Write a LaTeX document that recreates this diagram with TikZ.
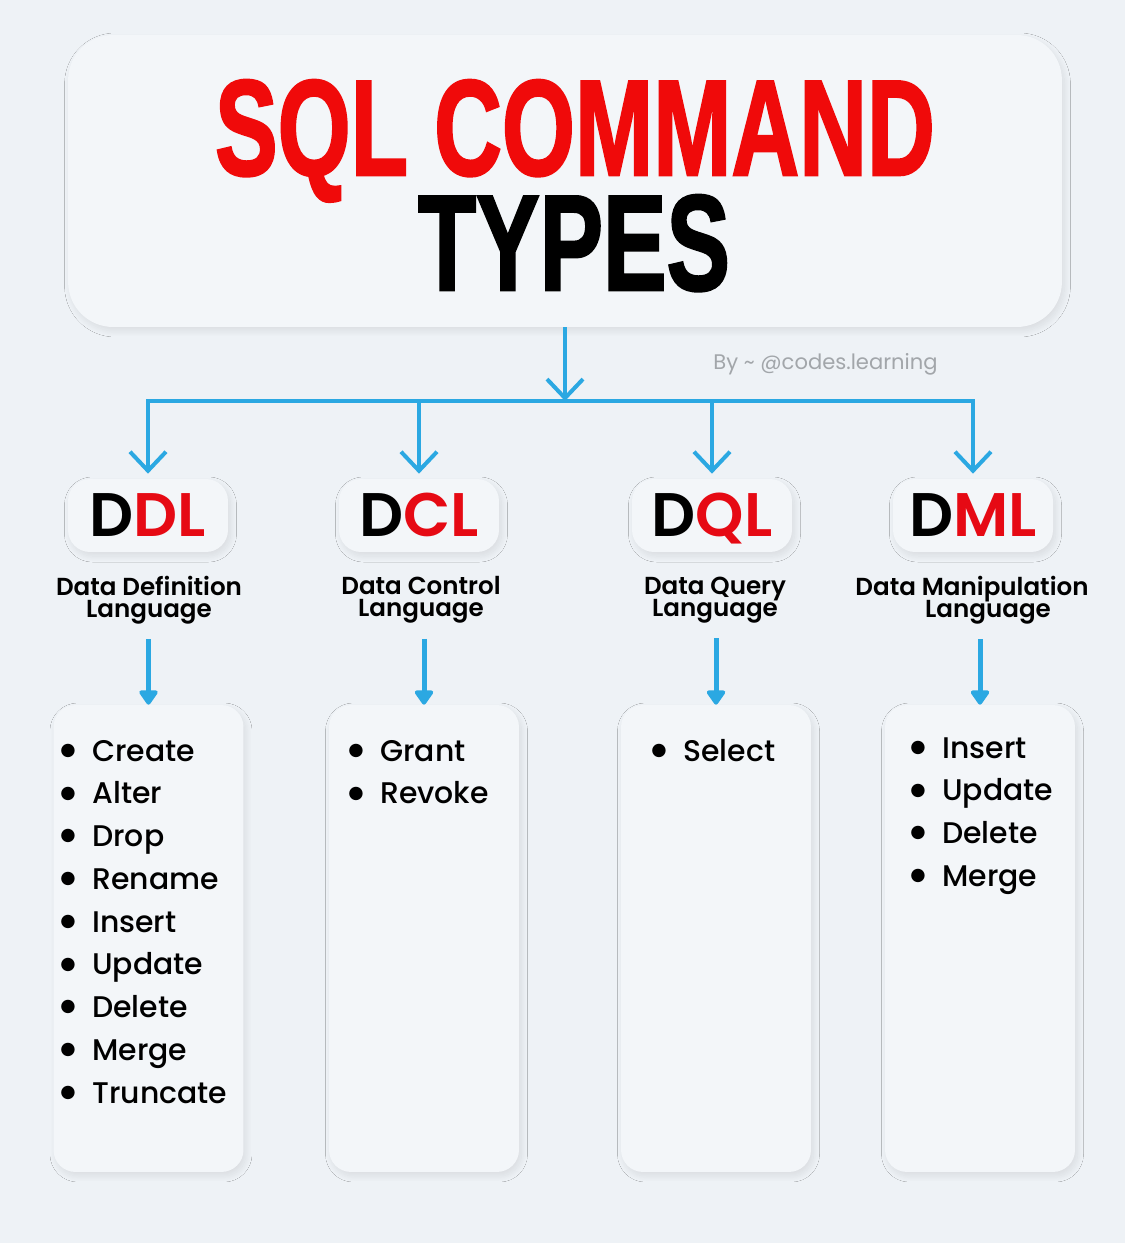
\documentclass[tikz,border=0pt]{standalone}
\usepackage{fontspec}
\usepackage{graphicx}
\setmainfont{Poppins}
\newfontfamily\popsemi{Poppins SemiBold}
\newfontfamily\popmed{Poppins Medium}
\newfontfamily\symfont{DejaVu Sans}
\newfontfamily\titlefont{Liberation Sans Bold}[FakeBold=2]
\usetikzlibrary{%
  arrows.meta,%
  positioning,%
  shadows.blur,%
  calc%
}

\definecolor{bgcol}{HTML}{EEF2F6}
\definecolor{boxfill}{HTML}{F3F6F9}
\definecolor{sqlred}{HTML}{F00A0A}
\definecolor{hdrred}{HTML}{E60A14}
\definecolor{arrowblue}{HTML}{2BA8E2}
\definecolor{creditgray}{HTML}{A2A6AA}

% bullet item
\newcommand\itm[1]{\makebox[0.64cm][l]{\symfont\fontsize{10}{10}\selectfont\raisebox{3.2pt}{●}}#1}
% fixed leading for the two-line names
\newcommand\tightlines{\lineskiplimit=-20pt\relax}

\begin{document}
\begin{tikzpicture}
[x=0.02cm, y=-0.02cm,
neubox/.style={rectangle, rounded corners=0.44cm, fill=boxfill, inner sep=0pt,
  blur shadow={shadow xshift=0.05cm, shadow yshift=-0.08cm, shadow blur radius=0.12cm,
  shadow blur steps=20, shadow opacity=9}},
titlebox/.style={neubox, rounded corners=0.9cm, minimum width=19.88cm, minimum height=5.84cm},
hdrbox/.style={neubox, minimum width=3.2cm, minimum height=1.46cm,
  font=\popsemi\fontsize{35}{36}\selectfont, text height=0.86cm, text depth=0pt},
listbox/.style={neubox, minimum width=3.8cm, minimum height=9.34cm},
heading/.style={inner sep=0pt, anchor=base, font=\titlefont},
langname/.style={align=center, inner sep=0pt,
  font=\popsemi\fontsize{14}{12.5}\selectfont\tightlines},
itemtext/.style={anchor=base west, inner sep=0pt, font=\popmed\fontsize{17}{20}\selectfont},
link/.style={draw=arrowblue, line width=0.08cm},
drop/.style={link, -{Straight Barb[length=0.38cm, width=0.72cm]}, shorten >=0.1cm},
pointer/.style={draw=arrowblue, line width=0.1cm, -{Triangle[length=0.32cm, width=0.42cm, round]}}]

% background and page size
\fill[bgcol] (0,0) rectangle (1125,1243);
\useasboundingbox (0,0) rectangle (1125,1243);

% title
\node[titlebox] (title) at (565,181) {};
\node[heading, sqlred] (head1) at (575,175) {\raisebox{0pt}[\height][0pt]{\resizebox{14.4cm}{1.9cm}{SQL COMMAND}}};
\node[heading] (head2) at (574,290) {\resizebox{6.24cm}{1.9cm}{TYPES}};

\node[anchor=base west, inner sep=0pt, text=creditgray, font=\fontsize{12}{14}\selectfont]
  (credit) at (713,369) {By \char"7E{} @codes.learning};

% command groups
\node[hdrbox] (ddl) at (148,515.5) {D\textcolor{hdrred}{DL}};
\node[hdrbox] (dcl) at (419,515.5) {D\textcolor{hdrred}{CL}};
\node[hdrbox] (dql) at (712,515.5) {D\textcolor{hdrred}{QL}};
\node[hdrbox] (dml) at (973,515.5) {D\textcolor{hdrred}{ML}};

\node[langname] (ddlname) at (149,600) {Data Definition\\Language};
\node[langname] (dclname) at (421,600) {Data Control\\Language};
\node[langname] (dqlname) at (715,600) {Data Query\\Language};
\node[langname] (dmlname) at (972,600) {Data Manipulation\\\hspace*{0.64cm}Language};

\node[listbox] (ddllist) at (148.5,938.5) {};
\node[listbox] (dcllist) at (424,938.5) {};
\node[listbox] (dqllist) at (716,938.5) {};
\node[listbox] (dmllist) at (980,938.5) {};

% tree connectors
\coordinate (barL) at (146,401);
\draw[link, -{Straight Barb[length=0.38cm, width=0.72cm]}] (title.south) -- (title.south |- barL);
\draw[link, line cap=rect] (ddl.north |- barL) -- (dml.north |- barL);
\foreach \g in {ddl,dcl,dql,dml} {
  \draw[drop] (\g.north |- barL) -- (\g.north);
  \draw[pointer, shorten <=0.3cm] (\g list.north |- \g name.south) -- (\g list.north);
}

% commands
\foreach \w [count=\i] in {Create,Alter,Drop,Rename,Insert,Update,Delete,Merge,Truncate}
  \node[itemtext] (ddli\i) at (60,{761+42.75*(\i-1)}) {\itm{\w}};
\foreach \w [count=\i] in {Grant,Revoke}
  \node[itemtext] (dcli\i) at (348,{761+42.75*(\i-1)}) {\itm{\w}};
\node[itemtext] (dqli1) at (651,761) {\itm{Select}};
\foreach \w [count=\i] in {Insert,Update,Delete,Merge}
  \node[itemtext] (dmli\i) at (910,{758+42.75*(\i-1)}) {\itm{\w}};
\end{tikzpicture}
\end{document}
